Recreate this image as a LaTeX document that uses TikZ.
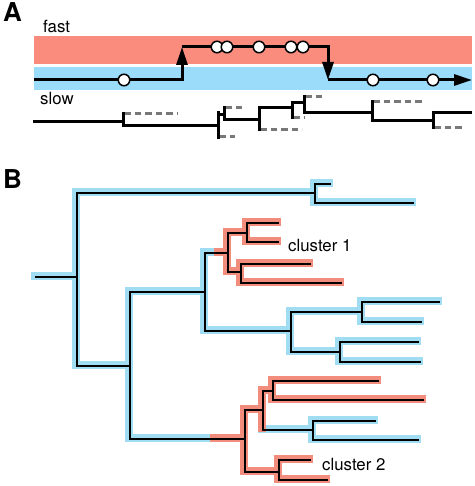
\documentclass[tikz,border=0pt]{standalone}
\usepackage{fontspec}
\setmainfont{TeX Gyre Heros}
\usetikzlibrary{arrows.meta}
\definecolor{bandred}{RGB}{249,140,125}
\definecolor{bandblue}{RGB}{154,220,250}
\definecolor{hlblue}{RGB}{160,220,242}
\definecolor{hlred}{RGB}{242,140,125}
\definecolor{dgrey}{RGB}{120,120,120}
\tikzset{
  tree/.style={line width=2.5pt, black, line cap=rect},
  hlb/.style={line width=7.5pt, hlblue, line cap=rect},
  hlr/.style={line width=7.5pt, hlred, line cap=rect},
  slowline/.style={line width=3pt, black, line cap=rect},
  slowdash/.style={line width=3pt, dgrey, dash pattern=on 6.5pt off 4pt},
  mainpath/.style={line width=3pt, black, line join=miter},
  arr/.style={-{Triangle[length=18pt,width=11pt]}},
  event/.style={circle, draw=black, fill=white, line width=1.5pt, minimum size=11.5pt, inner sep=0pt},
  lbl/.style={font=\fontsize{16.8}{18}\selectfont, anchor=base west, inner sep=0pt},
  panel/.style={font=\fontsize{26}{28}\selectfont\bfseries, anchor=base west, inner sep=0pt}
}
\begin{document}
\begin{tikzpicture}[x=1pt,y=-1pt]
\useasboundingbox (0,0) rectangle (474,486);
% ---------- Panel A ----------
\node[panel] (labA) at (3,22) {A};
\fill[bandred] (34,36) rectangle (472,64);
\fill[bandblue] (34,67) rectangle (472,90);
\node[lbl] (fast) at (43,33) {fast};
\node[lbl] (slow) at (40,105) {slow};
\coordinate (s0) at (34,80);
\coordinate (u0) at (182,80);
\coordinate (u1) at (182,47);
\coordinate (d0) at (328,47);
\coordinate (d1) at (328,80);
\coordinate (e1) at (472,80);
\draw[mainpath,arr] (s0) -- (u0) -- (u1);
\draw[mainpath,arr] (u1) -- (d0) -- (d1);
\draw[mainpath,arr] (d1) -- (e1);
\node[event] (c1) at (124,80) {};
\node[event] (c2) at (217,47) {};
\node[event] (c3) at (227,47) {};
\node[event] (c4) at (259,47) {};
\node[event] (c5) at (291,47) {};
\node[event] (c6) at (303,47) {};
\node[event] (c7) at (373,80) {};
\node[event] (c8) at (433,80) {};
% slow tree
\draw[slowdash] (124,114) -- (177,114);
\draw[slowdash] (219,137) -- (235,137);
\draw[slowdash] (225,108) -- (245,108);
\draw[slowdash] (260,130) -- (302,130);
\draw[slowdash] (293,118) -- (304,118);
\draw[slowdash] (305,97) -- (323,97);
\draw[slowdash] (373,102) -- (425,102);
\draw[slowdash] (434,128) -- (463,128);
\draw[slowline] (34,122) -- (123,122);
\draw[slowline] (123,114) -- (123,126);
\draw[slowline] (123,126) -- (218,126);
\draw[slowline] (218,113) -- (218,138);
\draw[slowline] (218,115) -- (224,115);
\draw[slowline] (224,108) -- (224,120);
\draw[slowline] (224,120) -- (259,120);
\draw[slowline] (259,108) -- (259,130);
\draw[slowline] (259,108) -- (292,108);
\draw[slowline] (292,103) -- (292,118);
\draw[slowline] (292,103) -- (304,103);
\draw[slowline] (304,97) -- (304,113);
\draw[slowline] (304,113) -- (372,113);
\draw[slowline] (372,102) -- (372,121);
\draw[slowline] (372,121) -- (433,121);
\draw[slowline] (433,113) -- (433,128);
\draw[slowline] (433,113) -- (470,113);
% ---------- Panel B ----------
\node[panel] (labB) at (3,189) {B};
\begin{scope}[shift={(-0.8,-0.8)}]
% blue highlights
\draw[hlb] (36,277) -- (77,277);
\draw[hlb] (77,193) -- (77,366);
\draw[hlb] (77,193) -- (315,193);
\draw[hlb] (315,184) -- (315,203);
\draw[hlb] (315,184) -- (330,184);
\draw[hlb] (315,203) -- (413,203);
\draw[hlb] (77,366) -- (130,366);
\draw[hlb] (130,292) -- (130,439);
\draw[hlb] (130,292) -- (205,292);
\draw[hlb] (205,253) -- (205,331);
\draw[hlb] (205,253) -- (212,253);
\draw[hlb] (205,331) -- (291,331);
\draw[hlb] (291,312) -- (291,352);
\draw[hlb] (291,312) -- (362,312);
\draw[hlb] (362,302) -- (362,322);
\draw[hlb] (362,302) -- (439,302);
\draw[hlb] (362,322) -- (421,322);
\draw[hlb] (291,352) -- (340,352);
\draw[hlb] (340,342) -- (340,362);
\draw[hlb] (340,342) -- (418,342);
\draw[hlb] (340,362) -- (420,362);
\draw[hlb] (130,439) -- (208,439);
\draw[hlb] (263,430) -- (313,430);
\draw[hlb] (313,421) -- (313,440);
\draw[hlb] (313,421) -- (375,421);
\draw[hlb] (313,440) -- (418,440);
% red highlights
\draw[hlr] (219,253) -- (228,253);
\draw[hlr] (228,233) -- (228,272);
\draw[hlr] (228,233) -- (247,233);
\draw[hlr] (247,223) -- (247,242);
\draw[hlr] (247,223) -- (278,223);
\draw[hlr] (247,242) -- (278,242);
\draw[hlr] (228,272) -- (241,272);
\draw[hlr] (241,264) -- (241,283);
\draw[hlr] (241,264) -- (310,264);
\draw[hlr] (241,283) -- (341,283);
\draw[hlr] (215,439) -- (245,439);
\draw[hlr] (245,410) -- (245,472);
\draw[hlr] (245,410) -- (263,410);
\draw[hlr] (263,391) -- (263,429);
\draw[hlr] (263,391) -- (273,391);
\draw[hlr] (273,381) -- (273,400);
\draw[hlr] (273,381) -- (378,381);
\draw[hlr] (273,400) -- (423,400);
\draw[hlr] (245,472) -- (279,472);
\draw[hlr] (279,460) -- (279,480);
\draw[hlr] (279,460) -- (310,460);
\draw[hlr] (279,480) -- (327,480);
\end{scope}
% black tree
\draw[tree] (36,277) -- (77,277);
\draw[tree] (77,193) -- (77,366);
\draw[tree] (77,193) -- (315,193);
\draw[tree] (315,184) -- (315,203);
\draw[tree] (315,184) -- (330,184);
\draw[tree] (315,203) -- (413,203);
\draw[tree] (77,366) -- (130,366);
\draw[tree] (130,292) -- (130,439);
\draw[tree] (130,292) -- (205,292);
\draw[tree] (205,253) -- (205,331);
\draw[tree] (205,253) -- (228,253);
\draw[tree] (228,233) -- (228,272);
\draw[tree] (228,233) -- (247,233);
\draw[tree] (247,223) -- (247,242);
\draw[tree] (247,223) -- (278,223);
\draw[tree] (247,242) -- (278,242);
\draw[tree] (228,272) -- (241,272);
\draw[tree] (241,264) -- (241,283);
\draw[tree] (241,264) -- (310,264);
\draw[tree] (241,283) -- (341,283);
\draw[tree] (205,331) -- (291,331);
\draw[tree] (291,312) -- (291,352);
\draw[tree] (291,312) -- (362,312);
\draw[tree] (362,302) -- (362,322);
\draw[tree] (362,302) -- (439,302);
\draw[tree] (362,322) -- (421,322);
\draw[tree] (291,352) -- (340,352);
\draw[tree] (340,342) -- (340,362);
\draw[tree] (340,342) -- (418,342);
\draw[tree] (340,362) -- (420,362);
\draw[tree] (130,439) -- (245,439);
\draw[tree] (245,410) -- (245,472);
\draw[tree] (245,410) -- (263,410);
\draw[tree] (263,391) -- (263,430);
\draw[tree] (263,391) -- (273,391);
\draw[tree] (273,381) -- (273,400);
\draw[tree] (273,381) -- (378,381);
\draw[tree] (273,400) -- (423,400);
\draw[tree] (263,430) -- (313,430);
\draw[tree] (313,421) -- (313,440);
\draw[tree] (313,421) -- (375,421);
\draw[tree] (313,440) -- (418,440);
\draw[tree] (245,472) -- (279,472);
\draw[tree] (279,460) -- (279,480);
\draw[tree] (279,460) -- (310,460);
\draw[tree] (279,480) -- (327,480);
\node[lbl] (cl1) at (288,251) {cluster 1};
\node[lbl] (cl2) at (322,470) {cluster 2};
\end{tikzpicture}
\end{document}
